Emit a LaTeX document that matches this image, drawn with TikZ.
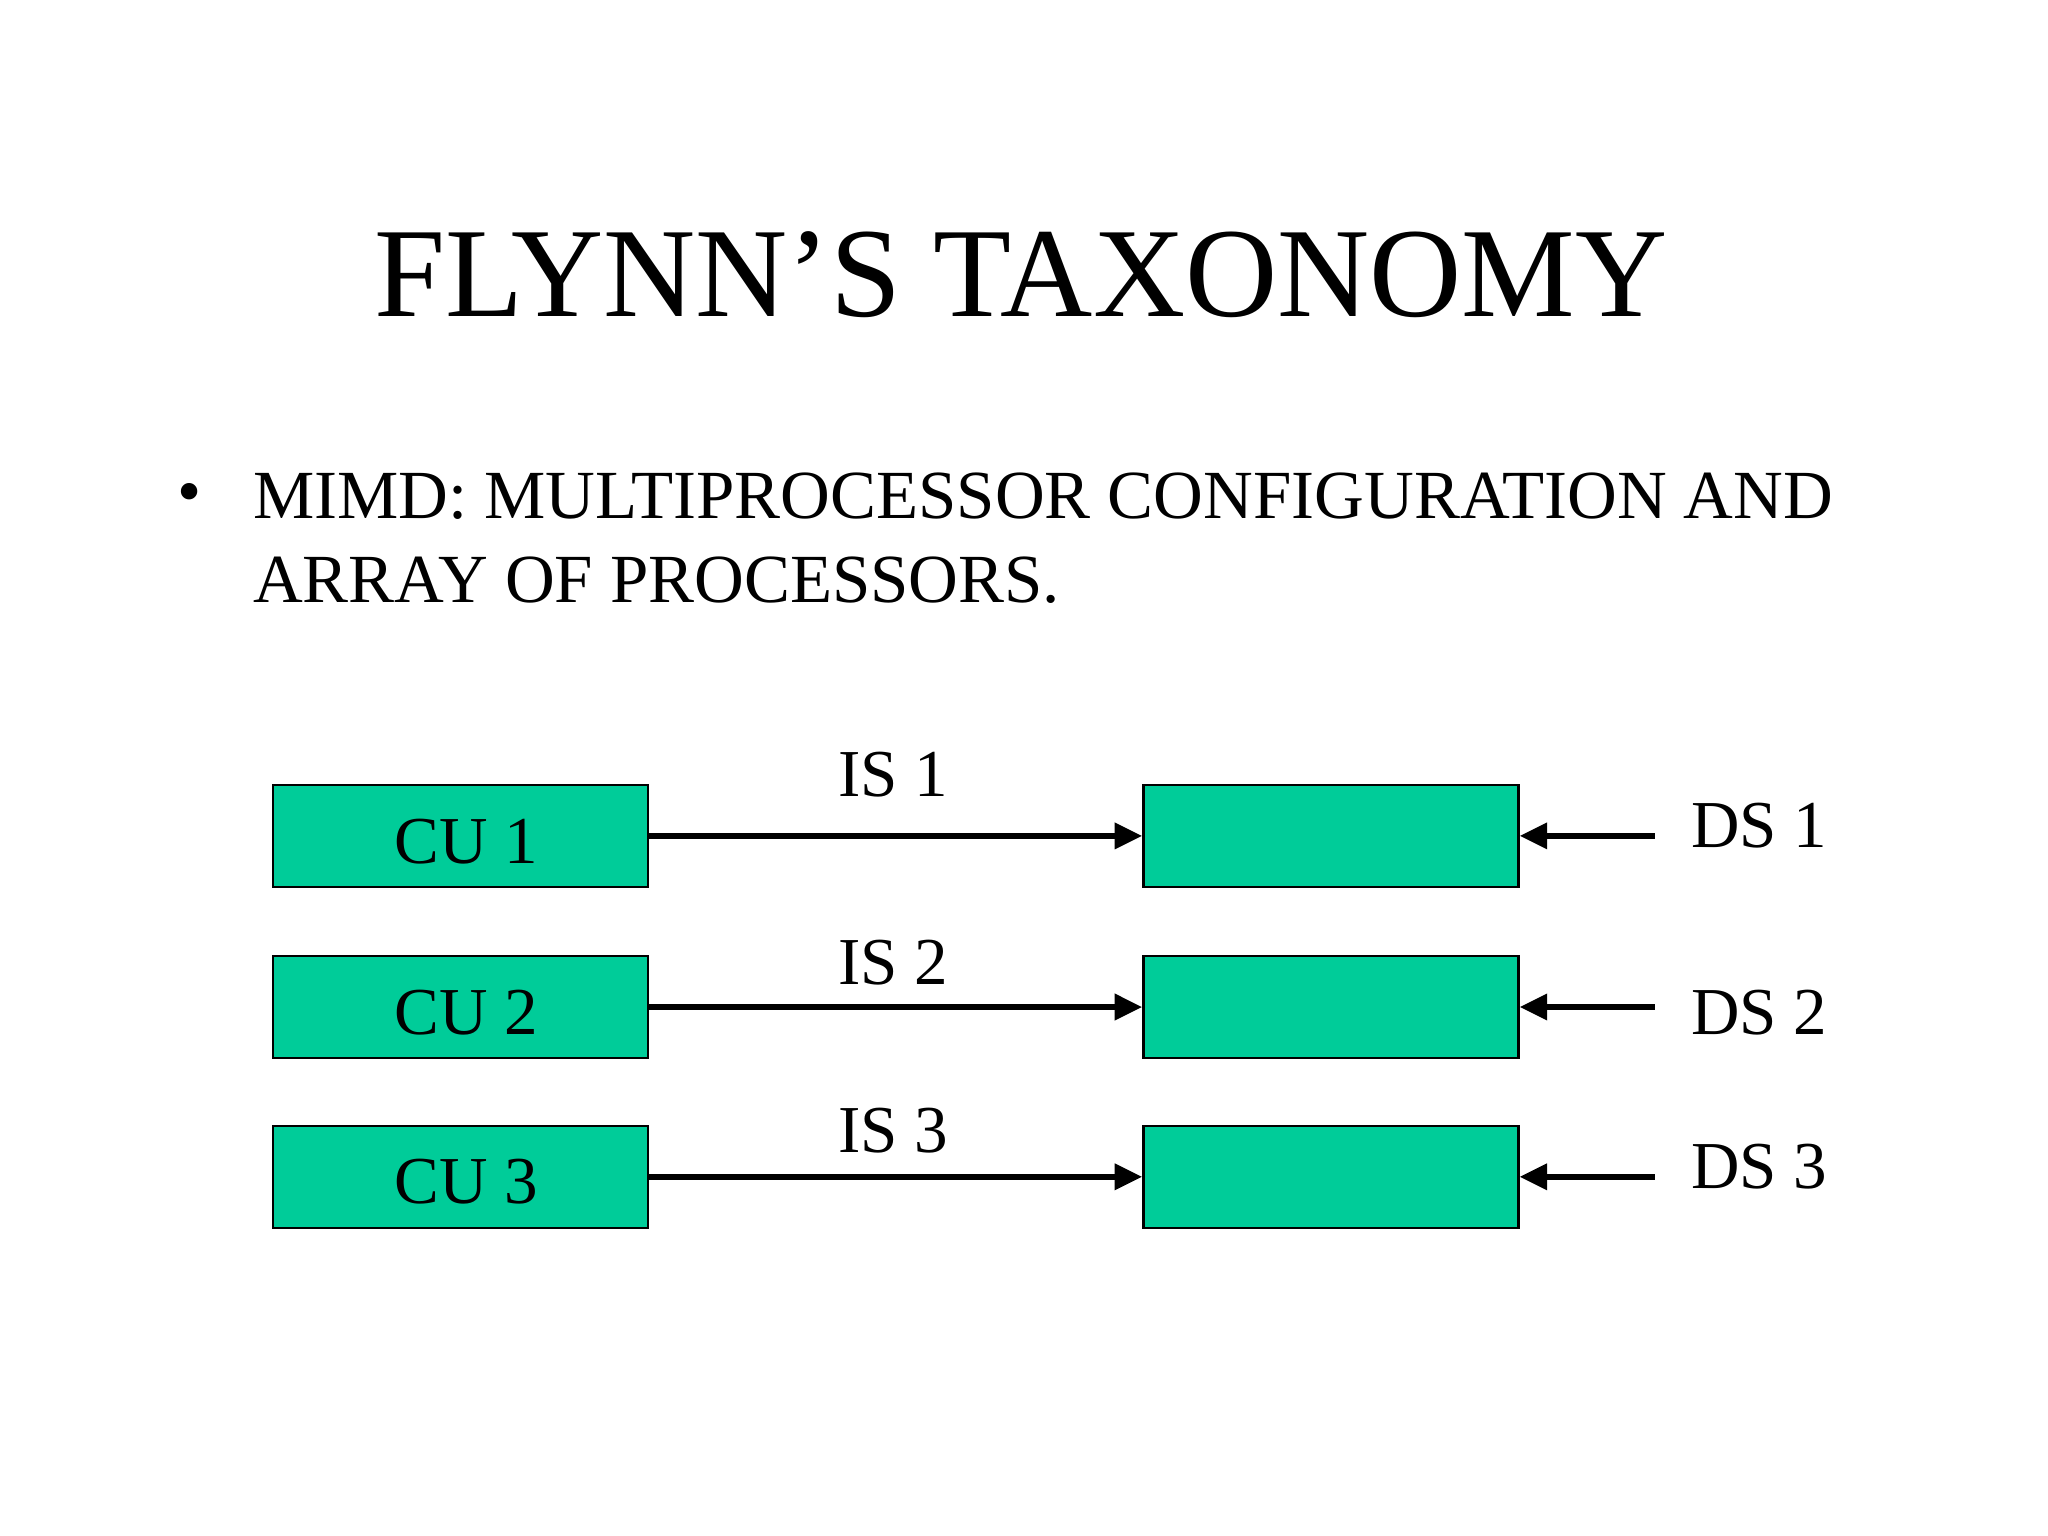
\documentclass[tikz,border=0pt]{standalone}
\usepackage{fontspec}
\setmainfont{Liberation Serif}
\usetikzlibrary{arrows.meta}
\begin{document}
\begin{tikzpicture}[x=0.01cm,y=-0.01cm,
  box/.style={draw=black,line width=0.5pt,fill={rgb,255:red,0;green,204;blue,153},minimum width=2.87cm,minimum height=0.78cm,inner sep=0pt},
  lbl/.style={font=\fontsize{14.6}{17}\selectfont},
  arr/.style={line width=1.3pt,-{Triangle[length=6pt,width=5.5pt]}}]
\useasboundingbox (0,0) rectangle (1568,1176);
\node (title) at (782,210) {\fontsize{27.8}{33}\selectfont FLYNN’S TAXONOMY};
\node (bul) at (145,382) {\fontsize{15}{18}\selectfont •};
\node[anchor=north west,align=left,inner sep=0pt,font=\fontsize{15}{18}\selectfont] (txt) at (193,361) {MIMD: MULTIPROCESSOR CONFIGURATION AND\\[0.3pt]ARRAY OF PROCESSORS.};
\foreach \i/\y/\ly/\dy in {1/640/593/632, 2/771/737/775, 3/901/866/893}{
  \node[box] (cu\i) at (352.5,\y) {};
  \node[lbl] (cul\i) at (357,\y+4) {CU \i};
  \node[box] (pe\i) at (1019,\y) {};
  \coordinate (ds\i) at (1267,\y);
  \node[lbl] (isl\i) at (684,\ly) {IS \i};
  \node[lbl] (dsl\i) at (1347,\dy) {DS \i};
  \draw[arr] (cu\i) -- (pe\i);
  \draw[arr] (ds\i) -- (pe\i);
}
\end{tikzpicture}
\end{document}
